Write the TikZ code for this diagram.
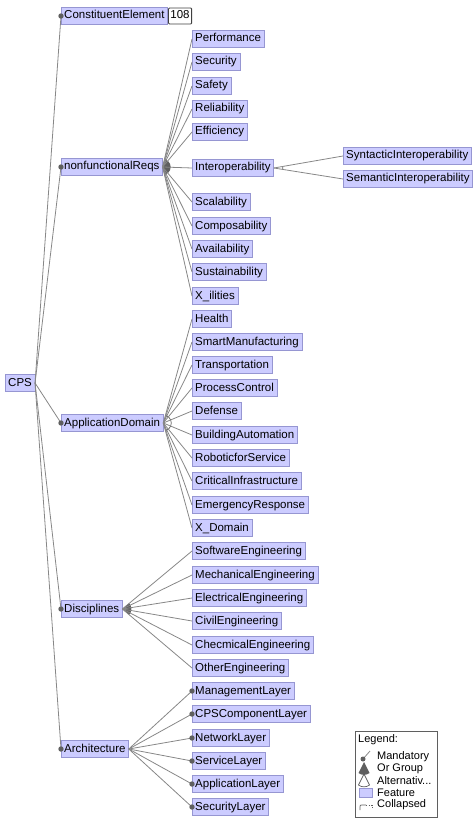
\documentclass[tikz,border=0pt]{standalone}
\usepackage{fontspec}
\setmainfont{Liberation Sans}
\usetikzlibrary{positioning, calc}
\definecolor{featfill}{RGB}{204,204,255}
\definecolor{featline}{RGB}{150,150,210}
\definecolor{linkgray}{RGB}{135,135,135}
\definecolor{dotgray}{RGB}{95,95,95}
\tikzset{
  feature/.style={rectangle, draw=featline, fill=featfill, anchor=west, inner xsep=3pt, inner ysep=0pt, minimum height=17pt, text height=8.5pt, text depth=2.5pt, font=\fontsize{11.5}{13}\selectfont},
  count/.style={rectangle, draw=black!75, line width=0.9pt, fill=white, rounded corners=1pt, anchor=west, inner xsep=2pt, inner ysep=0pt, minimum height=16pt, text height=8.5pt, text depth=2.5pt, font=\fontsize{11.5}{13}\selectfont},
  link/.style={draw=linkgray, line width=0.8pt},
  orgroup/.style={fill=dotgray},
  altgroup/.style={draw=dotgray, line width=0.7pt},
  legendtext/.style={anchor=west, inner sep=0pt, font=\fontsize{11}{12}\selectfont}
}

\begin{document}
\begin{tikzpicture}[x=1pt, y=-1pt]
    \useasboundingbox (0,0) rectangle (474,837);

    % root and first level
    \node (cps) [feature] at (5,383) {CPS};
    \node (const) [feature] at (61,16) {ConstituentElement};
    \node (cnt) [count] at (168,16) {108};
    \node (nfr) [feature] at (61,167) {nonfunctionalReqs};
    \node (appdom) [feature] at (61,423) {ApplicationDomain};
    \node (disc) [feature] at (61,609) {Disciplines};
    \node (arch) [feature] at (61,749) {Architecture};

    % nonfunctional requirements
    \node (perf) [feature] at (192,39) {Performance};
    \node (secu) [feature] at (192,62) {Security};
    \node (safe) [feature] at (192,86) {Safety};
    \node (reli) [feature] at (192,109) {Reliability};
    \node (effi) [feature] at (192,132) {Efficiency};
    \node (interop) [feature] at (192,168) {Interoperability};
    \node (scal) [feature] at (192,202) {Scalability};
    \node (compo) [feature] at (192,226) {Composability};
    \node (avail) [feature] at (192,249) {Availability};
    \node (sust) [feature] at (192,272) {Sustainability};
    \node (xil) [feature] at (192,296) {X\_ilities};
    \node (synt) [feature] at (343,156) {SyntacticInteroperability};
    \node (sema) [feature] at (343,179) {SemanticInteroperability};

    % application domains
    \node (health) [feature] at (192,319) {Health};
    \node (smart) [feature] at (192,342) {SmartManufacturing};
    \node (transp) [feature] at (192,365) {Transportation};
    \node (proc) [feature] at (192,388) {ProcessControl};
    \node (defe) [feature] at (192,411) {Defense};
    \node (build) [feature] at (192,435) {BuildingAutomation};
    \node (robo) [feature] at (192,458) {RoboticforService};
    \node (crit) [feature] at (192,481) {CriticalInfrastructure};
    \node (emerg) [feature] at (192,505) {EmergencyResponse};
    \node (xdom) [feature] at (192,528) {X\_Domain};

    % disciplines
    \node (softw) [feature] at (192,551) {SoftwareEngineering};
    \node (mech) [feature] at (192,575) {MechanicalEngineering};
    \node (elec) [feature] at (192,598) {ElectricalEngineering};
    \node (civil) [feature] at (192,621) {CivilEngineering};
    \node (chem) [feature] at (192,645) {ChecmicalEngineering};
    \node (other) [feature] at (192,668) {OtherEngineering};

    % architecture layers
    \node (mgmt) [feature] at (192,691) {ManagementLayer};
    \node (cpscomp) [feature] at (192,714) {CPSComponentLayer};
    \node (netw) [feature] at (192,738) {NetworkLayer};
    \node (serv) [feature] at (192,761) {ServiceLayer};
    \node (appl) [feature] at (192,784) {ApplicationLayer};
    \node (secl) [feature] at (192,807) {SecurityLayer};

    % connectors from CPS
    \draw [link] (cps.east) -- (const.west);
    \draw [link] (cps.east) -- (nfr.west);
    \draw [link] (cps.east) -- (appdom.west);
    \draw [link] (cps.east) -- (disc.west);
    \draw [link] (cps.east) -- (arch.west);

    % or group: nonfunctionalReqs
    \begin{scope}
        \clip (nfr.east) -- (perf.west) -- (xil.west) -- cycle;
        \fill [orgroup] (nfr.east) circle (8);
    \end{scope}
    \draw [link] (nfr.east) -- (perf.west);
    \draw [link] (nfr.east) -- (secu.west);
    \draw [link] (nfr.east) -- (safe.west);
    \draw [link] (nfr.east) -- (reli.west);
    \draw [link] (nfr.east) -- (effi.west);
    \draw [link] (nfr.east) -- (interop.west);
    \draw [link] (nfr.east) -- (scal.west);
    \draw [link] (nfr.east) -- (compo.west);
    \draw [link] (nfr.east) -- (avail.west);
    \draw [link] (nfr.east) -- (sust.west);
    \draw [link] (nfr.east) -- (xil.west);

    % alternative: Interoperability
    \begin{scope}
        \clip (interop.east) -- (synt.west) -- (sema.west) -- cycle;
        \draw [altgroup] (interop.east) circle (9);
    \end{scope}
    \draw [link] (interop.east) -- (synt.west);
    \draw [link] (interop.east) -- (sema.west);

    % alternative: ApplicationDomain
    \begin{scope}
        \clip (appdom.east) -- (health.west) -- (xdom.west) -- cycle;
        \draw [altgroup] (appdom.east) circle (8);
    \end{scope}
    \draw [link] (appdom.east) -- (health.west);
    \draw [link] (appdom.east) -- (smart.west);
    \draw [link] (appdom.east) -- (transp.west);
    \draw [link] (appdom.east) -- (proc.west);
    \draw [link] (appdom.east) -- (defe.west);
    \draw [link] (appdom.east) -- (build.west);
    \draw [link] (appdom.east) -- (robo.west);
    \draw [link] (appdom.east) -- (crit.west);
    \draw [link] (appdom.east) -- (emerg.west);
    \draw [link] (appdom.east) -- (xdom.west);

    % or group: Disciplines
    \begin{scope}
        \clip (disc.east) -- (softw.west) -- (other.west) -- cycle;
        \fill [orgroup] (disc.east) circle (9);
    \end{scope}
    \draw [link] (disc.east) -- (softw.west);
    \draw [link] (disc.east) -- (mech.west);
    \draw [link] (disc.east) -- (elec.west);
    \draw [link] (disc.east) -- (civil.west);
    \draw [link] (disc.east) -- (chem.west);
    \draw [link] (disc.east) -- (other.west);

    % mandatory: Architecture
    \draw [link] (arch.east) -- (mgmt.west);
    \draw [link] (arch.east) -- (cpscomp.west);
    \draw [link] (arch.east) -- (netw.west);
    \draw [link] (arch.east) -- (serv.west);
    \draw [link] (arch.east) -- (appl.west);
    \draw [link] (arch.east) -- (secl.west);

    % mandatory dots
    \fill [dotgray] (const.west) circle (2.7);
    \fill [dotgray] (nfr.west) circle (2.7);
    \fill [dotgray] (appdom.west) circle (2.7);
    \fill [dotgray] (disc.west) circle (2.7);
    \fill [dotgray] (arch.west) circle (2.7);
    \fill [dotgray] (mgmt.west) circle (2.7);
    \fill [dotgray] (cpscomp.west) circle (2.7);
    \fill [dotgray] (netw.west) circle (2.7);
    \fill [dotgray] (serv.west) circle (2.7);
    \fill [dotgray] (appl.west) circle (2.7);
    \fill [dotgray] (secl.west) circle (2.7);

    % legend
    \draw [dotgray, line width=0.8pt] (355,731) rectangle (437,817);
    \node (lgtitle) [legendtext] at (358,740) {Legend:};
    \node (lgmand) [legendtext] at (377,757) {Mandatory};
    \node (lgor) [legendtext] at (377,769) {Or Group};
    \node (lgalt) [legendtext] at (377,781) {Alternativ...};
    \node (lgfeat) [legendtext] at (377,793) {Feature};
    \node (lgcoll) [legendtext] at (377,805) {Collapsed};
    \draw [link] (363,759) -- (370,751);
    \fill [dotgray] (363,759) circle (2.5);
    \fill [orgroup] (364,762) -- (358.5,773) .. controls (362,775.5) and (366,775.5) .. (369.5,773) -- cycle;
    \draw [altgroup] (364,774) -- (358.5,785) .. controls (362,787.5) and (366,787.5) .. (369.5,785) -- cycle;
    \draw [featline, fill=featfill] (359,788) rectangle (372,797);
    \draw [dotgray, line width=0.7pt] (360,810) -- (360,807) .. controls (360,805) .. (362,805) -- (366,805);
    \draw [dotgray, line width=0.7pt, dotted] (366,805) -- (372,805) -- (372,808);
\end{tikzpicture}
\end{document}
